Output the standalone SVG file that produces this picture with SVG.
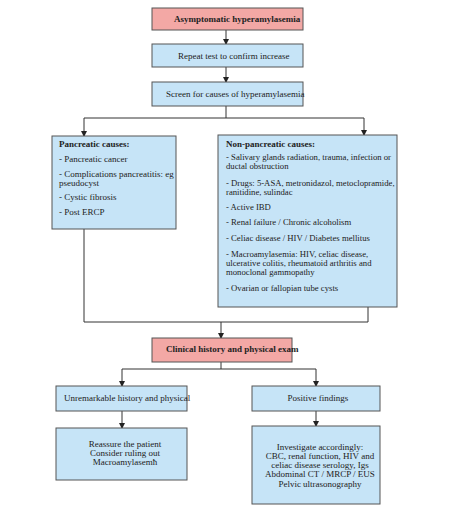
<svg xmlns="http://www.w3.org/2000/svg" width="474" height="513" viewBox="0 0 474 513">
<defs>
<marker id="ah" markerWidth="6" markerHeight="6" refX="5" refY="3" orient="auto" markerUnits="userSpaceOnUse">
<path d="M0,0 L6,3 L0,6 Z" fill="#222"/>
</marker>
<style>
.red{fill:#f3a8a5;stroke:#555;stroke-width:1}
.blue{fill:#c6e4f7;stroke:#555;stroke-width:1}
text{font-family:"Liberation Serif","Times New Roman",serif;font-size:9px;fill:#222}
.s{font-size:8.7px}
.b{font-weight:bold}
.c{text-anchor:middle}
.ln{fill:none;stroke:#333;stroke-width:1}
</style>
</defs>
<rect width="474" height="513" fill="#fff"/>
<g id="connectors">
<path class="ln" d="M226,30 V44" marker-end="url(#ah)"/>
<path class="ln" d="M226,67 V82" marker-end="url(#ah)"/>
<path class="ln" d="M226,106 V118"/>
<path class="ln" d="M84,118 H364"/>
<path class="ln" d="M84,118 V136" marker-end="url(#ah)"/>
<path class="ln" d="M364,118 V135" marker-end="url(#ah)"/>
<path class="ln" d="M84,229 V322 H368 V307"/>
<path class="ln" d="M221,322 V338" marker-end="url(#ah)"/>
<path class="ln" d="M221,362 V369"/>
<path class="ln" d="M122,369 H316"/>
<path class="ln" d="M122,369 V386" marker-end="url(#ah)"/>
<path class="ln" d="M316,369 V386" marker-end="url(#ah)"/>
<path class="ln" d="M122,411 V428" marker-end="url(#ah)"/>
<path class="ln" d="M316,411 V426" marker-end="url(#ah)"/>
</g>
<g id="n1">
<rect class="red" x="152" y="8" width="151" height="22"/>
<text class="b" x="174" y="22">Asymptomatic hyperamylasemia</text>
</g>
<g id="n2">
<rect class="blue" x="152" y="44" width="151" height="23"/>
<text x="178" y="59">Repeat test to confirm increase</text>
</g>
<g id="n3">
<rect class="blue" x="152" y="82" width="151" height="24"/>
<text x="166" y="97">Screen for causes of hyperamylasemia</text>
</g>
<g id="n4">
<rect class="blue" x="52" y="136" width="124" height="93"/>
<text class="b" x="59" y="147">Pancreatic causes:</text>
<text x="59" y="162">- Pancreatic cancer</text>
<text x="59" y="177">- Complications pancreatitis: eg</text>
<text x="59" y="186">pseudocyst</text>
<text x="59" y="200">- Cystic fibrosis</text>
<text x="59" y="215">- Post ERCP</text>
</g>
<g id="n5">
<rect class="blue" x="218" y="135" width="179" height="172"/>
<text class="b" x="226" y="147">Non-pancreatic causes:</text>
<text class="s" x="226" y="160">- Salivary glands radiation, trauma, infection or</text>
<text class="s" x="226" y="169">ductal obstruction</text>
<text class="s" x="226" y="186">- Drugs: 5-ASA, metronidazol, metoclopramide,</text>
<text class="s" x="226" y="195">ranitidine, sulindac</text>
<text class="s" x="226" y="210">- Active IBD</text>
<text class="s" x="226" y="225">- Renal failure / Chronic alcoholism</text>
<text class="s" x="226" y="241">- Celiac disease / HIV / Diabetes mellitus</text>
<text class="s" x="226" y="257">- Macroamylasemia: HIV, celiac disease,</text>
<text class="s" x="226" y="266">ulcerative colitis, rheumatoid arthritis and</text>
<text class="s" x="226" y="275">monoclonal gammopathy</text>
<text class="s" x="226" y="291">- Ovarian or fallopian tube cysts</text>
</g>
<g id="n6">
<rect class="red" x="152" y="338" width="140" height="24"/>
<text class="b" x="166" y="352">Clinical history and physical exam</text>
</g>
<g id="n7">
<rect class="blue" x="56" y="386" width="131" height="25"/>
<text x="64" y="401">Unremarkable history and physical</text>
</g>
<g id="n8">
<rect class="blue" x="252" y="386" width="128" height="25"/>
<text class="c" x="318" y="401">Positive findings</text>
</g>
<g id="n9">
<rect class="blue" x="56" y="428" width="131" height="52"/>
<text class="c" x="125" y="447">Reassure the patient</text>
<text class="c" x="125" y="456">Consider ruling out</text>
<text class="c" x="125" y="465">Macroamylasemħ</text>
</g>
<g id="n10">
<rect class="blue" x="252" y="426" width="128" height="78"/>
<text class="c" x="320" y="450">Investigate accordingly:</text>
<text class="c" x="320" y="459">CBC, renal function, HIV and</text>
<text class="c" x="320" y="468">celiac disease serology, Igs</text>
<text class="c" x="320" y="477">Abdominal CT / MRCP / EUS</text>
<text class="c" x="320" y="487">Pelvic ultrasonography</text>
</g>
</svg>
